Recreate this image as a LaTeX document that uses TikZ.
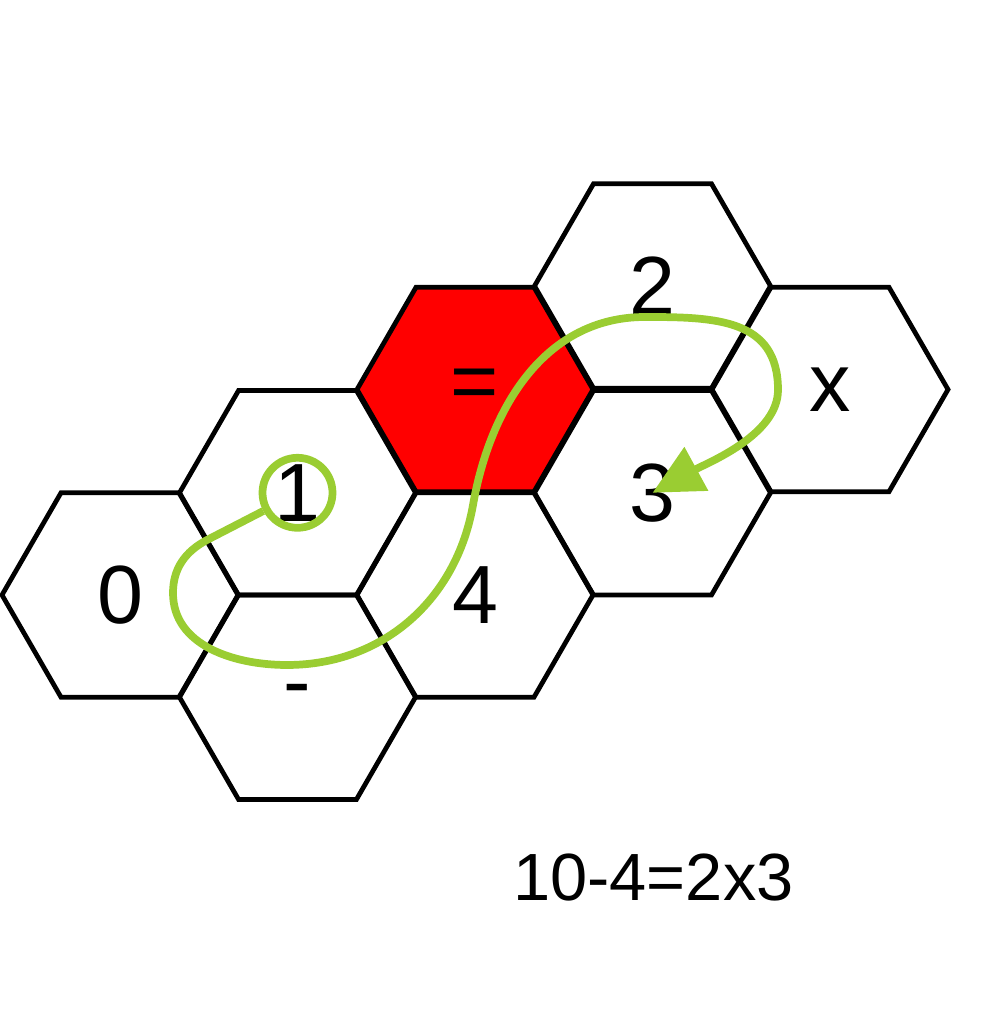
\documentclass[tikz,border=0pt]{standalone}
\usepackage{fontspec}
\setmainfont{Liberation Sans}
\usepackage{xcolor}
\usetikzlibrary{arrows.meta,shapes.geometric,positioning}
\definecolor{loopgreen}{RGB}{154,205,50}
\newcommand{\cellfont}{\fontsize{23.5}{28}\selectfont}
\newcommand{\eqnfont}{\fontsize{19}{23}\selectfont}

\begin{document}
\begin{tikzpicture}[
    hexcell/.style={regular polygon, regular polygon sides=6, minimum size=2.36cm, inner sep=0, draw=black, line width=1.35pt, font=\cellfont},
    redcell/.style={hexcell, fill=red},
    ring/.style={circle, draw=loopgreen, line width=2.2pt, minimum size=0.70cm, inner sep=0},
    loopline/.style={draw=loopgreen, line width=2.2pt, -{Triangle[length=0.5cm,width=0.48cm]}}]
\useasboundingbox (0,0) rectangle (10,10.25);

\node[hexcell] (h0)     at (1.200,4.300) {0};
\node[hexcell] (h1)     at (2.975,5.322) {1};
\node[hexcell] (hminus) at (2.975,3.278) {-};
\node[redcell] (heq)    at (4.750,6.355) {=};
\node[hexcell] (h4)     at (4.750,4.300) {4};
\node[hexcell] (h3)     at (6.525,5.322) {3};
\node[hexcell] (h2)     at (6.525,7.390) {2};
\node[hexcell] (hx)     at (8.300,6.355) {x};

\node[font=\eqnfont] (eqn) at (6.535,1.47) {10-4=2x3};

\node[ring] (ring1) at (h1.center) {};

\path[loopline] (ring1.208) -- (2.07,4.85)
    to[out=208,in=90] (1.73,4.32)
    to[out=270,in=180] (2.87,3.60)
    to[out=0,in=260] (4.73,5.20)
    to[out=80,in=180] (6.45,7.08)
    to[out=0,in=90,looseness=1.2] (7.78,6.35)
    .. controls +(0,-0.45) and +(0.55,0.30) .. (h3.center);

\end{tikzpicture}
\end{document}
